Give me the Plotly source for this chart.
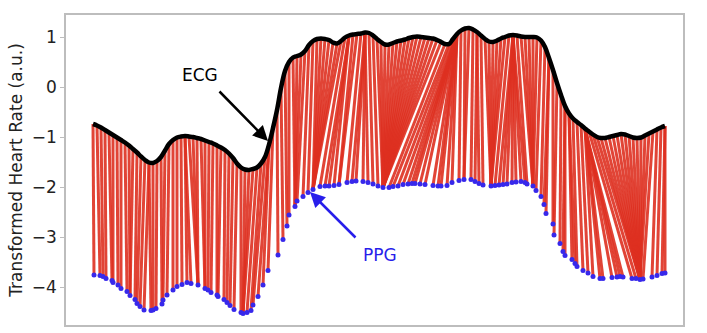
import numpy as np
import plotly.graph_objects as go

# ECG trace, sampled every 4 time units (time, value)
ecg_t = list(range(0, 573, 4))
ecg_v = [-0.74, -0.77, -0.81, -0.86, -0.91, -0.96, -1.01, -1.06, -1.11, -1.17, -1.24, -1.31, -1.39,
         -1.46, -1.51, -1.52, -1.48, -1.40, -1.27, -1.14, -1.06, -1.01, -0.99, -0.98, -0.99, -1.00,
         -1.02, -1.04, -1.07, -1.10, -1.13, -1.17, -1.21, -1.26, -1.33, -1.42, -1.53, -1.61, -1.65,
         -1.66, -1.64, -1.61, -1.53, -1.40, -1.15, -0.82, -0.46, -0.02, 0.32, 0.50, 0.59, 0.62,
         0.65, 0.72, 0.84, 0.92, 0.96, 0.97, 0.96, 0.94, 0.89, 0.87, 0.92, 0.99, 1.03, 1.05, 1.06,
         1.07, 1.09, 1.08, 1.03, 0.96, 0.90, 0.85, 0.85, 0.88, 0.91, 0.93, 0.95, 0.98, 1.00, 1.01,
         1.00, 0.99, 0.98, 0.97, 0.94, 0.90, 0.86, 0.86, 0.96, 1.06, 1.13, 1.17, 1.18, 1.15, 1.10,
         1.03, 0.96, 0.91, 0.90, 0.93, 0.97, 1.00, 1.03, 1.04, 1.03, 1.01, 1.00, 1.00, 1.00, 0.99,
         0.93, 0.80, 0.58, 0.34, 0.08, -0.16, -0.38, -0.53, -0.63, -0.70, -0.76, -0.83, -0.89,
         -0.95, -1.00, -1.02, -1.02, -1.00, -0.98, -0.96, -0.94, -0.95, -0.98, -1.01, -1.02, -1.01,
         -0.97, -0.93, -0.89, -0.85, -0.81, -0.78]

# PPG trace (time, value)
ppg_t = [1, 7, 10, 13, 19, 20, 25, 28, 34, 37, 42, 44, 47, 51, 58, 60, 63, 69, 70, 74, 80, 84,
         89, 94, 98, 105, 112, 115, 118, 124, 125, 131, 134, 137, 141, 148, 150, 154, 158, 160,
         165, 170, 175, 185, 190, 194, 196, 202, 204, 210, 215, 220, 227, 232, 236, 241, 246, 254,
         259, 263, 270, 275, 280, 285, 290, 296, 300, 305, 310, 315, 319, 322, 327, 332, 340, 345,
         348, 354, 359, 366, 371, 378, 382, 386, 390, 398, 402, 406, 410, 414, 419, 423, 428, 432,
         434, 440, 443, 448, 451, 453, 460, 461, 467, 470, 472, 479, 482, 484, 490, 495, 500, 507,
         510, 519, 524, 527, 530, 539, 543, 547, 550, 559, 564, 569, 572]
ppg_v = [-3.76, -3.77, -3.79, -3.83, -3.87, -3.91, -3.96, -4.03, -4.09, -4.17, -4.25, -4.33, -4.39,
         -4.46, -4.47, -4.46, -4.43, -4.34, -4.26, -4.16, -4.06, -3.99, -3.95, -3.91, -3.93, -3.96,
         -4.03, -4.06, -4.11, -4.16, -4.19, -4.25, -4.31, -4.37, -4.45, -4.51, -4.53, -4.51, -4.47,
         -4.36, -4.19, -3.96, -3.67, -3.36, -3.05, -2.78, -2.56, -2.39, -2.28, -2.19, -2.11, -2.05,
         -1.99, -1.98, -1.98, -1.97, -1.95, -1.91, -1.89, -1.88, -1.89, -1.91, -1.94, -1.98, -2.01,
         -2.01, -1.99, -1.98, -1.95, -1.94, -1.93, -1.93, -1.94, -1.95, -1.97, -1.98, -1.98, -1.97,
         -1.91, -1.87, -1.85, -1.85, -1.89, -1.93, -1.96, -1.98, -1.97, -1.96, -1.95, -1.94, -1.91,
         -1.90, -1.89, -1.91, -1.94, -1.98, -2.07, -2.19, -2.35, -2.53, -2.74, -2.96, -3.13, -3.29,
         -3.37, -3.45, -3.53, -3.59, -3.67, -3.72, -3.79, -3.83, -3.83, -3.81, -3.80, -3.79, -3.80,
         -3.83, -3.83, -3.85, -3.84, -3.80, -3.77, -3.73, -3.72]

# dynamic time warping alignment between the two z-normalised series
a = np.array(ecg_v); b = np.array(ppg_v)
az = (a - a.mean()) / a.std(); bz = (b - b.mean()) / b.std()
n, m = len(az), len(bz)
D = np.full((n + 1, m + 1), np.inf); D[0, 0] = 0
for i in range(1, n + 1):
    for j in range(1, m + 1):
        c = abs(az[i - 1] - bz[j - 1])
        D[i, j] = c + min(D[i - 1, j], D[i, j - 1], D[i - 1, j - 1])
path = []
i, j = n, m
while i > 0 and j > 0:
    path.append((i - 1, j - 1))
    k = np.argmin([D[i - 1, j - 1], D[i - 1, j], D[i, j - 1]])
    if k == 0:
        i, j = i - 1, j - 1
    elif k == 1:
        i -= 1
    else:
        j -= 1

lx, ly = [], []
for (p, q) in path:
    lx += [ecg_t[p], ppg_t[q], None]
    ly += [ecg_v[p], ppg_v[q], None]

fig = go.Figure()
fig.add_trace(go.Scatter(x=lx, y=ly, mode="lines",
                         line=dict(color="rgba(222,48,32,0.9)", width=3.0),
                         hoverinfo="skip", showlegend=False))
fig.add_trace(go.Scatter(x=ecg_t, y=ecg_v, mode="lines",
                         line=dict(color="black", width=4.5, shape="spline"),
                         showlegend=False))
fig.add_trace(go.Scatter(x=ppg_t, y=ppg_v, mode="markers",
                         marker=dict(color="rgb(55,40,235)", size=5),
                         showlegend=False))

ann = [
    dict(x=175, y=-1.08, ax=125, ay=-0.06, color="black", text="ECG", tx=107, ty=0.24),
    dict(x=217, y=-2.1, ax=264, ay=-3.04, color="rgb(40,30,235)", text="PPG", tx=287, ty=-3.36),
]
for a_ in ann:
    fig.add_annotation(x=a_["x"], y=a_["y"], ax=a_["ax"], ay=a_["ay"], xref="x", yref="y",
                       axref="x", ayref="y", text="", showarrow=True, arrowhead=2,
                       arrowsize=1.2, arrowwidth=2.5, arrowcolor=a_["color"])
    fig.add_annotation(x=a_["tx"], y=a_["ty"], xref="x", yref="y", text=a_["text"],
                       showarrow=False, font=dict(size=17, color=a_["color"],
                                                  family="DejaVu Sans"))

fig.update_layout(
    width=707, height=333, margin=dict(l=66, r=24, t=15, b=8),
    plot_bgcolor="white", paper_bgcolor="white",
    font=dict(family="DejaVu Sans", color="#222"),
    xaxis=dict(range=[-27, 590], showgrid=False, zeroline=False, showticklabels=False,
               ticks="", showline=True, linecolor="#bdbdbd", linewidth=1.5, mirror=True),
    yaxis=dict(range=[-4.76, 1.44], showgrid=False, zeroline=False,
               tickvals=[1, 0, -1, -2, -3, -4], ticktext=["1", "0", "\u22121", "\u22122", "\u22123", "\u22124"],
               tickfont=dict(size=17), ticks="outside", ticklen=4, tickcolor="#bdbdbd",
               showline=True, linecolor="#bdbdbd", linewidth=1.5, mirror=True,
               title=dict(text="Transformed Heart Rate (a.u.)", font=dict(size=17), standoff=5)),
)
fig.write_html("out.html")
